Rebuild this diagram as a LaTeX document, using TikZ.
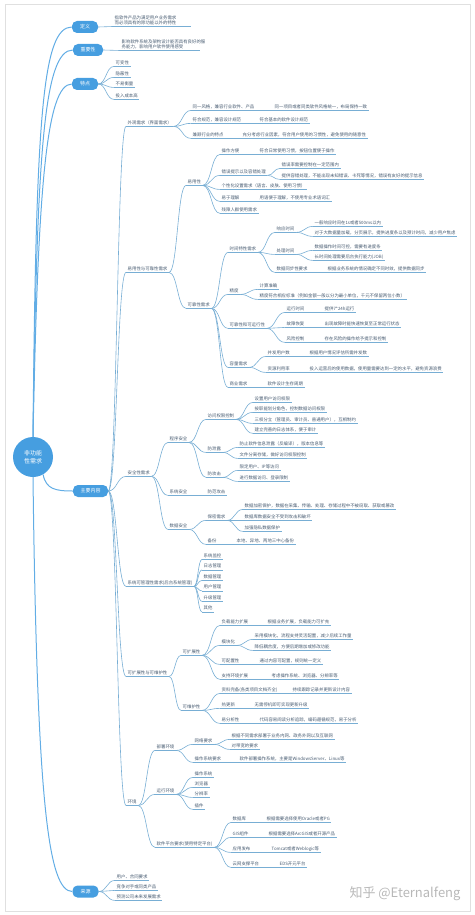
\documentclass[tikz,border=0pt]{standalone}
\usepackage{fontspec}
\usepackage{tikz}
\usetikzlibrary{calc}
\newfontfamily\cjk{Noto Sans CJK SC}
\definecolor{mapblue}{RGB}{70,158,224}
\definecolor{maplink}{RGB}{120,174,212}
\definecolor{maptext}{RGB}{70,90,112}
% one underlined topic of the map
\newcommand{\leaf}[4]{\node[leaf] (#1) at (#2,#3) {#4};
  \draw[uline] (#1.south west) -- (#1.south east);}

\begin{document}
\begin{tikzpicture}[x=1pt, y=-1pt, font=\cjk,
  root/.style={circle, fill=mapblue, text=white, minimum size=40pt, inner sep=0pt, align=center, font=\cjk\fontsize{6}{8}\selectfont},
  topic/.style={rounded corners=5pt, fill=mapblue, text=white, minimum height=12pt, inner xsep=3pt, font=\cjk\fontsize{5}{6}\selectfont},
  leaf/.style={anchor=west, inner xsep=1.5pt, inner ysep=1pt, text height=3.6pt, text depth=0.8pt, text=maptext, font=\cjk\fontsize{4.4}{5}\selectfont},
  note/.style={anchor=south west, inner xsep=1.5pt, inner ysep=1pt, align=left, text=maptext, font=\cjk\fontsize{4.4}{5.6}\selectfont},
  uline/.style={maplink, line width=0.6pt},
  link/.style={maplink, line width=0.6pt, to path={.. controls ($(\tikztostart)!.5!(\tikztostart -| \tikztotarget)$) and ($(\tikztotarget)!.5!(\tikztotarget -| \tikztostart)$) .. (\tikztotarget)}},
  trunk/.style={mapblue!85, line width=1pt}]
\useasboundingbox (0,0) rectangle (474,915);
\draw[black!12, line width=0.5pt] (5,4) rectangle (470,911);

% root and first level
\node[root] (root) at (33,457) {非功能\\性需求};
\node[topic, minimum width=26pt] (def) at (85,27) {定义};
\node[topic, minimum width=30pt] (imp) at (88,50) {重要性};
\node[topic, minimum width=26pt] (feat) at (85,84) {特点};
\node[topic, minimum width=35pt] (main) at (90.5,491) {主要内容};
\node[topic, minimum width=26pt] (src) at (85.5,891.5) {来源};

\draw[trunk] (root.north) .. controls (36,120) and (42,27) .. (def.west);
\draw[trunk] (root.north) .. controls (37,150) and (44,50) .. (imp.west);
\draw[trunk] (root.north) .. controls (38,190) and (46,84) .. (feat.west);
\draw[trunk] (root.-60) .. controls (46,489) and (55,491) .. (main.west);
\draw[trunk] (root.south) .. controls (37,800) and (48,891.5) .. (src.west);

% definition, importance, features
\node[note, text width=75pt] (defn) at (113,26.5) {指软件产品为满足用户业务需求\\而必须具有的除功能以外的特性};
\draw[uline] (defn.south west) -- (defn.south east);
\node[note, text width=77pt] (impn) at (120,50.5) {影响软件系统及架构设计能否具有良好的服\\务能力，影响用户软件使用感受};
\draw[uline] (impn.south west) -- (impn.south east);
\draw[link] (def.east) to (defn.south west);
\draw[link] (imp.east) to (impn.south west);
\leaf{f1}{114}{63}{可变性}
\leaf{f2}{114}{74}{隐蔽性}
\leaf{f3}{114}{84}{不易衡量}
\leaf{f4}{114}{96}{投入成本高}
\foreach \c in {f1,f2,f3,f4} \draw[link] (feat.east) to (\c.south west);

% main content
\leaf{ui}{126}{123}{外观需求（界面需求）}
\leaf{usab}{126}{269}{易用性与可靠性需求}
\leaf{sec}{126}{473}{安全性需求}
\leaf{mgmt}{126}{583}{系统可管理性需求(后台系统管理)}
\leaf{ext}{126}{673}{可扩展性与可维护性}
\leaf{env}{126}{802}{环境}
\foreach \c in {ui,usab,sec,mgmt,ext,env} \draw[link] (main.east) to (\c.south west);

% interface
\leaf{ui1}{191}{107}{同一风格，兼容行业软件、产品}
\leaf{ui2}{191}{120}{符合规范，兼容设计规范}
\leaf{ui3}{191}{135}{兼顾行业的特点}
\leaf{ui1v}{273}{107}{同一项目或者同类软件风格统一，布局保持一致}
\leaf{ui2v}{258}{120}{符合基本的软件设计规范}
\leaf{ui3v}{241}{135}{充分考虑行业因素，符合用户使用的习惯性，避免使用的随意性}
\foreach \c in {ui1,ui2,ui3} \draw[link] (ui.south east) to (\c.south west);
\foreach \c in {1,2,3} \draw[link] (ui\c.south east) to (ui\c v.south west);

% usability and reliability
\leaf{easy}{186}{182}{易用性}
\leaf{rel}{186}{305}{可靠性需求}
\foreach \c in {easy,rel} \draw[link] (usab.south east) to (\c.south west);
\leaf{e1}{220}{151}{操作方便}
\leaf{e2}{220}{172}{错误提示以及容错处理}
\leaf{e3}{220}{186}{个性化设置需求（语言、皮肤、使用习惯）}
\leaf{e4}{220}{198}{易于理解}
\leaf{e5}{220}{210}{残障人群使用需求}
\foreach \c in {e1,e2,e3,e4,e5} \draw[link] (easy.south east) to (\c.south west);
\leaf{e1v}{258}{151}{符合日常使用习惯，按钮位置便于操作}
\leaf{e2a}{280}{165}{错误率需要控制在一定范围内}
\leaf{e2b}{280}{176}{提供容错处理，不能出现未知错误、卡死等情况，错误有友好的提示信息}
\leaf{e4v}{258}{198}{用语便于理解，不使用专业术语词汇}
\draw[link] (e1.south east) to (e1v.south west);
\foreach \c in {e2a,e2b} \draw[link] (e2.south east) to (\c.south west);
\draw[link] (e4.south east) to (e4v.south west);

\leaf{time}{228}{249}{时间特性需求}
\leaf{prec}{228}{291}{精度}
\leaf{avail}{228}{325}{可靠性和可运行性}
\leaf{cap}{228}{364}{容量需求}
\leaf{biz}{228}{384}{商业需求}
\foreach \c in {time,prec,avail,cap,biz} \draw[link] (rel.south east) to (\c.south west);
\leaf{t1}{275}{229}{响应时间}
\leaf{t2}{275}{251}{处理时间}
\leaf{t3}{275}{269}{数据同步性要求}
\foreach \c in {t1,t2,t3} \draw[link] (time.south east) to (\c.south west);
\leaf{t1a}{313}{223}{一般响应时间在1s或者500ms以内}
\leaf{t1b}{313}{233}{对于大数据量加载，分页展示，提供进度条以及预计时间，减少用户焦虑}
\leaf{t2a}{313}{247}{数据操作时间可控，需要有进度条}
\leaf{t2b}{313}{257}{长时间处理需要后台执行能力(JOB)}
\leaf{t3v}{326}{269}{根据业务系统的情况确定不同时效，提供数据同步}
\foreach \c in {t1a,t1b} \draw[link] (t1.south east) to (\c.south west);
\foreach \c in {t2a,t2b} \draw[link] (t2.south east) to (\c.south west);
\draw[link] (t3.south east) to (t3v.south west);
\leaf{p1}{258}{286}{计算准确}
\leaf{p2}{258}{296}{精度符合相应标准（例如金额一般以分为最小单位，千元不保留两位小数）}
\foreach \c in {p1,p2} \draw[link] (prec.south east) to (\c.south west);
\leaf{a1}{285}{309}{运行时间}
\leaf{a2}{285}{324}{故障恢复}
\leaf{a3}{285}{339}{风险控制}
\leaf{a1v}{323}{309}{提供7*24h运行}
\leaf{a2v}{323}{324}{出现故障时能快速恢复至正常运行状态}
\leaf{a3v}{323}{339}{存在风险的操作给予提示和控制}
\foreach \c in {a1,a2,a3} \draw[link] (avail.south east) to (\c.south west);
\foreach \c in {a1,a2,a3} \draw[link] (\c.south east) to (\c v.south west);
\leaf{c1}{266}{353}{并发用户数}
\leaf{c2}{266}{369}{资源利用率}
\leaf{c1v}{308}{353}{根据用户情况评估所需并发数}
\leaf{c2v}{308}{369}{投入运营后的使用数据，使用量需要达到一定的水平，避免资源浪费}
\foreach \c in {c1,c2} \draw[link] (cap.south east) to (\c.south west);
\foreach \c in {c1,c2} \draw[link] (\c.south east) to (\c v.south west);
\leaf{bizv}{266}{384}{软件设计生存周期}
\draw[link] (biz.south east) to (bizv.south west);

% security
\leaf{prog}{168}{439}{程序安全}
\leaf{sys}{168}{492}{系统安全}
\leaf{data}{168}{526}{数据安全}
\foreach \c in {prog,sys,data} \draw[link] (sec.south east) to (\c.south west);
\leaf{acc}{206}{416}{访问权限控制}
\leaf{leak}{206}{449}{防泄露}
\leaf{atk}{206}{474}{防攻击}
\foreach \c in {acc,leak,atk} \draw[link] (prog.south east) to (\c.south west);
\leaf{acc1}{253}{399}{设置用户访问权限}
\leaf{acc2}{253}{409}{按职能划分角色，控制数据访问权限}
\leaf{acc3}{253}{420}{三权分立（管理员、审计员、普通用户），互相制约}
\leaf{acc4}{253}{430}{建立完善的日志体系，便于审计}
\foreach \c in {acc1,acc2,acc3,acc4} \draw[link] (acc.south east) to (\c.south west);
\leaf{leak1}{238}{444}{防止软件信息泄露（反编译），版本信息等}
\leaf{leak2}{238}{455}{文件分离存储，做好访问权限控制}
\foreach \c in {leak1,leak2} \draw[link] (leak.south east) to (\c.south west);
\leaf{atk1}{238}{467}{限定用户、IP等访问}
\leaf{atk2}{238}{478}{进行数据访问、登录限制}
\foreach \c in {atk1,atk2} \draw[link] (atk.south east) to (\c.south west);
\leaf{sysv}{206}{492}{防范攻击}
\draw[link] (sys.south east) to (sysv.south west);
\leaf{secret}{206}{517}{保密需求}
\leaf{backup}{206}{541}{备份}
\foreach \c in {secret,backup} \draw[link] (data.south east) to (\c.south west);
\leaf{s1}{243}{506}{数据加密保护，数据在采集、传输、处理、存储过程中不被窃取、获取或篡改}
\leaf{s2}{243}{517}{数据库数据安全不受到攻击和破坏}
\leaf{s3}{243}{528}{加强隐私数据保护}
\foreach \c in {s1,s2,s3} \draw[link] (secret.south east) to (\c.south west);
\leaf{backupv}{235}{541}{本地、异地、两地三中心备份}
\draw[link] (backup.south east) to (backupv.south west);

% management
\leaf{m1}{202}{556}{系统监控}
\leaf{m2}{202}{566.5}{日志管理}
\leaf{m3}{202}{577}{数据管理}
\leaf{m4}{202}{587.5}{用户管理}
\leaf{m5}{202}{598}{升级管理}
\leaf{m6}{202}{608.5}{其他}
\foreach \c in {m1,m2,m3,m4,m5,m6} \draw[link] (mgmt.south east) to (\c.south west);

% extensibility and maintainability
\leaf{scal}{181}{652}{可扩展性}
\leaf{maint}{181}{707}{可维护性}
\foreach \c in {scal,maint} \draw[link] (ext.south east) to (\c.south west);
\leaf{x1}{220}{622}{负载能力扩展}
\leaf{x2}{220}{642}{模块化}
\leaf{x3}{220}{661}{可配置性}
\leaf{x4}{220}{676}{支持环境扩展}
\foreach \c in {x1,x2,x3,x4} \draw[link] (scal.south east) to (\c.south west);
\leaf{x1v}{266}{622}{根据业务扩展，负载能力可扩充}
\leaf{x2a}{253}{636}{采用模块化，流程支持灵活配置，减少后续工作量}
\leaf{x2b}{253}{647}{降低耦合度，方便后期增加或修改功能}
\leaf{x3v}{258}{661}{通过内容可配置，规则统一定义}
\leaf{x4v}{270}{676}{考虑操作系统、浏览器、分辨率等}
\draw[link] (x1.south east) to (x1v.south west);
\foreach \c in {x2a,x2b} \draw[link] (x2.south east) to (\c.south west);
\draw[link] (x3.south east) to (x3v.south west);
\draw[link] (x4.south east) to (x4v.south west);
\leaf{w1}{220}{690}{资料完备(各类项目文档齐全)}
\leaf{w2}{220}{705}{热更新}
\leaf{w3}{220}{720}{易分析性}
\leaf{w1v}{291}{690}{持续跟踪记录并更新设计内容}
\leaf{w2v}{253}{705}{无需停机即可实现更新升级}
\leaf{w3v}{258}{720}{代码容易阅读分析追踪，编码遵循规范，易于分析}
\foreach \c in {w1,w2,w3} \draw[link] (maint.south east) to (\c.south west);
\foreach \c in {w1,w2,w3} \draw[link] (\c.south east) to (\c v.south west);

% environment
\leaf{deploy}{155}{747}{部署环境}
\leaf{run}{155}{791}{运行环境}
\leaf{plat}{155}{844}{软件平台要求(使用特定平台)}
\foreach \c in {deploy,run,plat} \draw[link] (env.south east) to (\c.south west);
\leaf{net}{193}{741}{网络要求}
\leaf{os}{193}{759}{操作系统要求}
\foreach \c in {net,os} \draw[link] (deploy.south east) to (\c.south west);
\leaf{net1}{230}{736}{根据不同需求部署于业务内网、政务外网以及互联网}
\leaf{net2}{230}{746}{对带宽的要求}
\foreach \c in {net1,net2} \draw[link] (net.south east) to (\c.south west);
\leaf{osv}{238}{759}{软件部署操作系统，主要是WindowsServer、Linux等}
\draw[link] (os.south east) to (osv.south west);
\leaf{r1}{193}{774}{操作系统}
\leaf{r2}{193}{784}{浏览器}
\leaf{r3}{193}{794}{分辨率}
\leaf{r4}{193}{806}{插件}
\foreach \c in {r1,r2,r3,r4} \draw[link] (run.south east) to (\c.south west);
\leaf{k1}{231}{819}{数据库}
\leaf{k2}{231}{834}{GIS组件}
\leaf{k3}{231}{849}{应用发布}
\leaf{k4}{231}{864}{云网支撑平台}
\leaf{k1v}{265}{819}{根据需要选择使用Oracle或者PG}
\leaf{k2v}{267}{834}{根据需要选择ArcGIS或者开源产品}
\leaf{k3v}{270}{849}{Tomcat或者Weblogic等}
\leaf{k4v}{278}{864}{EDS开元平台}
\foreach \c in {k1,k2,k3,k4} \draw[link] (plat.south east) to (\c.south west);
\foreach \c in {k1,k2,k3,k4} \draw[link] (\c.south east) to (\c v.south west);

% sources
\leaf{o1}{115}{877}{用户、合同要求}
\leaf{o2}{115}{887}{竞争对手或同类产品}
\leaf{o3}{115}{897}{预测公司未来发展需求}
\foreach \c in {o1,o2,o3} \draw[link] (src.east) to (\c.south west);

% watermark
\node[text=black!28, font=\cjk\fontsize{13}{13}\selectfont, anchor=east] (mark) at (464,894) {知乎 @Eternalfeng};
\end{tikzpicture}
\end{document}
